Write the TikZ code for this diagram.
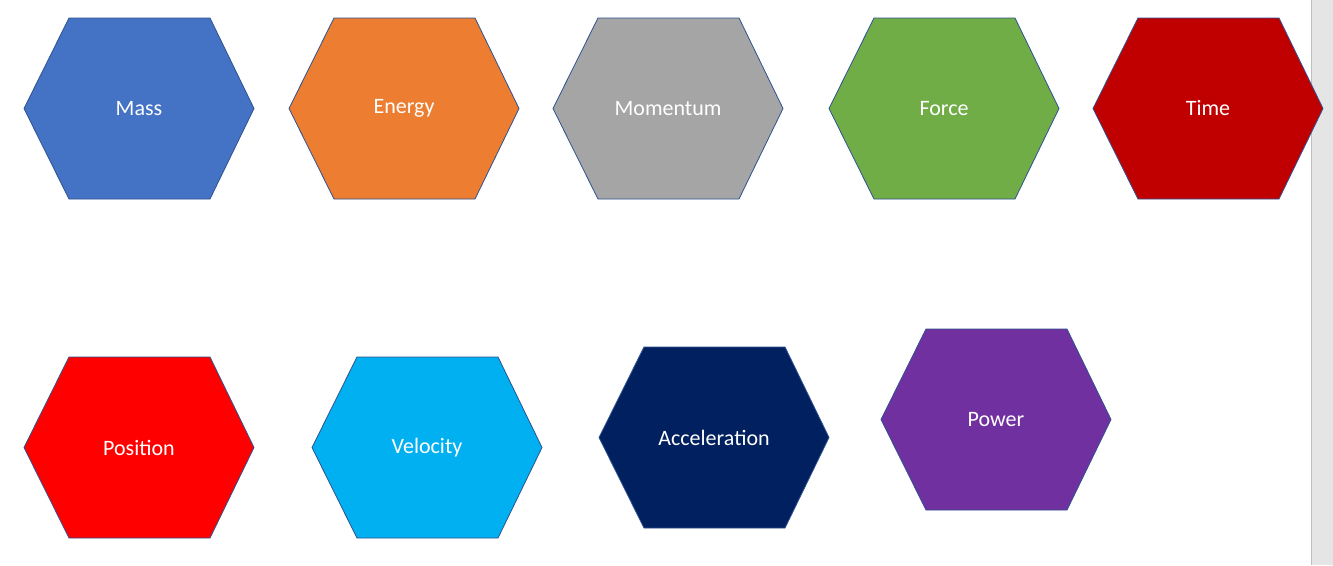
\documentclass[tikz,border=0pt]{standalone}
\usepackage{fontspec}
\setmainfont{Carlito}
\definecolor{cMass}{HTML}{4472C4}
\definecolor{cEnergy}{HTML}{ED7D31}
\definecolor{cMom}{HTML}{A5A5A5}
\definecolor{cForce}{HTML}{70AD47}
\definecolor{cTime}{HTML}{C00000}
\definecolor{cPos}{HTML}{FF0000}
\definecolor{cVel}{HTML}{00B0F0}
\definecolor{cAcc}{HTML}{002060}
\definecolor{cPow}{HTML}{7030A0}
\definecolor{edge}{HTML}{2F528F}
\tikzset{hexshape/.style={draw=edge,line width=0.8pt},
  hexlabel/.style={text=white,font=\fontsize{22}{26}\selectfont}}
\newcommand\hexa[4]{%
  \fill[#4] (#2-115,#3) -- (#2-70,#3-90.5) -- (#2+71,#3-90.5) -- (#2+115,#3) -- (#2+71,#3+90.5) -- (#2-70,#3+90.5) -- cycle;
  \draw[hexshape] (#2-115,#3) -- (#2-70,#3-90.5) -- (#2+71,#3-90.5) -- (#2+115,#3) -- (#2+71,#3+90.5) -- (#2-70,#3+90.5) -- cycle;
  \node[hexlabel] (#1) at (#2,#3) {#1};}
\begin{document}
\begin{tikzpicture}[x=1pt,y=-1pt]
\useasboundingbox (0,0) rectangle (1333,565);
\fill[white] (0,0) rectangle (1333,565);
\fill[black!10] (1311,0) rectangle (1333,565);
\draw[black!25] (1311,0) -- (1311,565);
\hexa{Mass}{139}{108.5}{cMass}
\hexa{Energy}{404}{108.5}{cEnergy}
\hexa{Momentum}{668}{108.5}{cMom}
\hexa{Force}{944}{108.5}{cForce}
\hexa{Time}{1208}{108.5}{cTime}
\hexa{Position}{139}{447.5}{cPos}
\hexa{Velocity}{427}{447.5}{cVel}
\hexa{Acceleration}{714}{437.5}{cAcc}
\hexa{Power}{996}{419.5}{cPow}
\end{tikzpicture}
\end{document}
